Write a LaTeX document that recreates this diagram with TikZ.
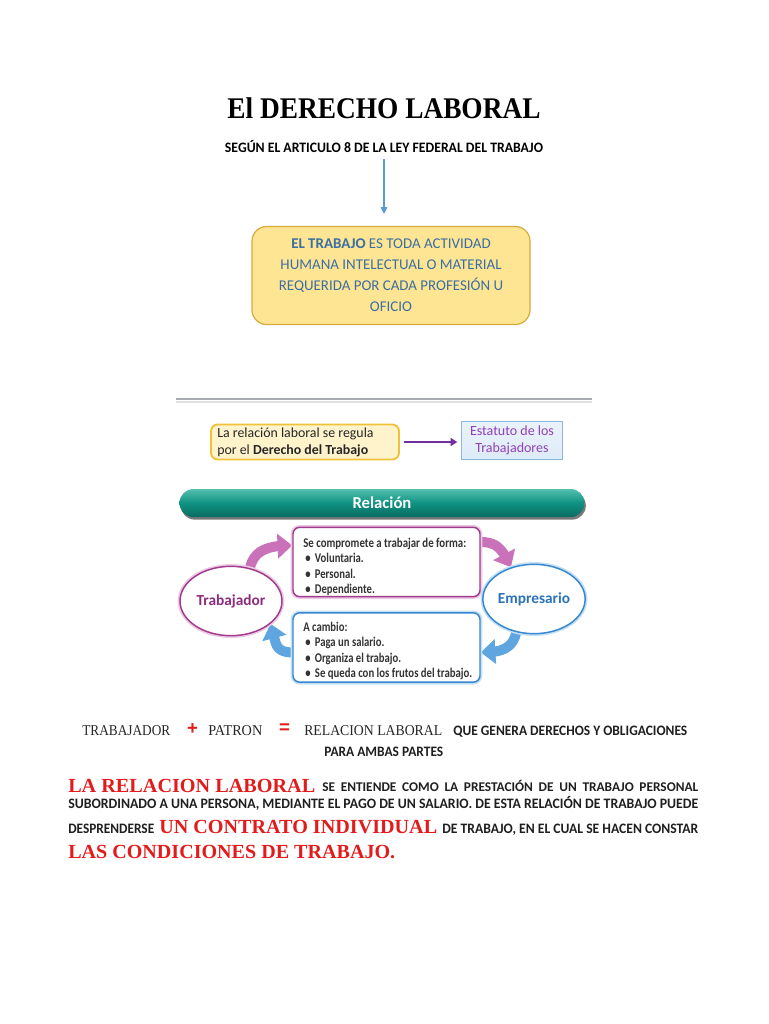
\documentclass[tikz,border=0pt]{standalone}
\usepackage{fontspec}
\usepackage{graphicx}
\setmainfont{Liberation Serif}
\newfontfamily\calib{Carlito}
\newfontfamily\arialf{Liberation Sans}
\usetikzlibrary{arrows.meta,bending,shapes.geometric,shadows}
\newdimen\pxu \pxu=0.75pt
\newsavebox\tmpbox
\newcommand{\fitw}[2]{\resizebox{#1\pxu}{\height}{#2}}
\newcommand{\just}[2]{\sbox\tmpbox{#2}\ifdim\wd\tmpbox>#1\pxu\relax\resizebox{#1\pxu}{\height}{\usebox\tmpbox}\else\makebox[#1\pxu][s]{#2}\fi}
\definecolor{boxtext}{HTML}{3B6EA3}
\definecolor{boxfill}{HTML}{FEE594}
\definecolor{boxdraw}{HTML}{D8AA3A}
\definecolor{arrblue}{HTML}{5B9BD5}
\definecolor{grayrule}{HTML}{A8ABB0}
\definecolor{ylfill}{HTML}{FFF3CC}
\definecolor{yldraw}{HTML}{F0C23A}
\definecolor{purp}{HTML}{7030A0}
\definecolor{estfill}{HTML}{DDEBF8}
\definecolor{estdraw}{HTML}{8DB8DC}
\definecolor{esttext}{HTML}{9040B8}
\definecolor{tealA}{HTML}{55BFAE}
\definecolor{tealB}{HTML}{0F9282}
\definecolor{tealC}{HTML}{0A6B5F}
\definecolor{mag}{HTML}{A23A8D}
\definecolor{magl}{HTML}{EBCBE4}
\definecolor{magarr}{HTML}{C972BA}
\definecolor{blu}{HTML}{3787D0}
\definecolor{blul}{HTML}{C4E0F5}
\definecolor{bluarr}{HTML}{5FA5DF}
\definecolor{trabtext}{HTML}{8A2C7E}
\definecolor{emptext}{HTML}{2B73B9}
\definecolor{redt}{HTML}{E41B1B}
\pgfdeclarelayer{bg}
\pgfsetlayers{bg,main}
\tikzset{
  txt/.style={anchor=base west, inner sep=0pt},
  serifw/.style={txt, font=\fontsize{11.25}{13}\selectfont, text=black!85},
  smallc/.style={txt, font=\calib\bfseries\fontsize{10.8}{12}\selectfont, text=black!88},
  redbig/.style={txt, font=\bfseries\fontsize{15}{18}\selectfont, text=redt},
  opsym/.style={inner sep=0pt, font=\arialf\bfseries\fontsize{14}{16}\selectfont, text=redt},
  circtxt/.style={txt, font=\calib\bfseries\fontsize{10}{11}\selectfont, text=black!80},
  thickarr/.style={line width=7.5pt, -{Triangle[width=18pt,length=11pt]}},
  glowbox/.style={rounded corners=5pt, line width=1.1pt, fill=white, minimum width=140.25pt, minimum height=52pt, inner sep=0pt},
  glowell/.style={ellipse, line width=1.1pt, fill=white, minimum width=76.5pt, minimum height=52pt, inner sep=0pt, font=\calib\bfseries\fontsize{11.5}{13}\selectfont}
}
\begin{document}
\begin{tikzpicture}[x=0.75pt,y=-0.75pt]
\begin{pgfonlayer}{bg}
\fill[white] (0,0) rectangle (768,1024);
\end{pgfonlayer}
\useasboundingbox (0,0) rectangle (768,1024);

% Title
\node[inner sep=0pt, anchor=base, font=\bfseries\fontsize{22.5}{26}\selectfont] (title) at (384,118) {\fitw{313}{El DERECHO LABORAL}};
\node[inner sep=0pt, anchor=base, font=\calib\bfseries\fontsize{10.8}{13}\selectfont] (sub) at (384,152) {\fitw{318}{SEGÚN EL ARTICULO 8 DE LA LEY FEDERAL DEL TRABAJO}};

\node[draw=boxdraw, fill=boxfill, rounded corners=11pt, line width=0.9pt, minimum width=208.5pt, minimum height=73.5pt, align=center, text=boxtext, font=\calib\fontsize{11.2}{15.75}\selectfont] (trabajo) at (391,275.5) {\textbf{EL TRABAJO} ES TODA ACTIVIDAD\\HUMANA INTELECTUAL O MATERIAL\\REQUERIDA POR CADA PROFESIÓN U\\OFICIO};
\draw[arrblue, line width=0.8pt, -{Triangle[width=5pt,length=5pt]}, shorten <=5pt, shorten >=9pt] (sub.south) -- (trabajo.north -| sub.south);

% rule
\draw[grayrule, line width=2pt] (176,399) -- (592,399);
\draw[black!12, line width=1.5pt] (176,401.5) -- (592,401.5);

% regula box
\node[draw=yldraw, fill=ylfill, rounded corners=5pt, line width=1.4pt, minimum width=141pt, minimum height=26.25pt] (reg) at (305,442) {};
\node[anchor=west, inner sep=0pt, align=left, font=\calib\fontsize{10.4}{12.75}\selectfont, text=black!85] (regt) at (217,442.5) {La relación laboral se regula\\por el \textbf{Derecho del Trabajo}};
\node[draw=estdraw, top color=estfill!60, bottom color=estfill, line width=0.6pt, minimum width=75.5pt, minimum height=25pt, align=center, text=esttext, font=\calib\fontsize{10.5}{12.75}\selectfont] (est) at (512,440) {Estatuto de los\\Trabajadores};
\draw[purp, line width=1.5pt, -{Triangle[width=6pt,length=5pt]}, shorten <=3pt, shorten >=3pt] (reg.east) -- (est.west |- reg.east);

% Relacion bar
\node[rounded corners=10.5pt, minimum width=303.75pt, minimum height=21pt, top color=tealA, bottom color=tealC, middle color=tealB, text=white, font=\calib\bfseries\fontsize{12.5}{15}\selectfont, drop shadow={shadow xshift=1pt, shadow yshift=-2pt, opacity=0.7, fill=black!75}] (rel) at (382,503) {Relación};

% cycle boxes
\node[glowbox, draw=mag, preaction={draw=magl, line width=3.5pt}] (comp) at (386.5,562) {};
\node[glowbox, draw=blu, preaction={draw=blul, line width=3.5pt}] (cambio) at (386.5,647.5) {};
\node[glowell, draw=mag, preaction={draw=magl, line width=3.5pt}, text=trabtext] (trab) at (231,601) {Trabajador};
\node[glowell, draw=blu, preaction={draw=blul, line width=3.5pt}, text=emptext] (emp) at (534,599) {Empresario};

\node[circtxt] (c1) at (303,547) {\fitw{163}{Se compromete a trabajar de forma:}};
\node[circtxt] (c2) at (305,562.5) {\scalebox{0.8}[1]{•\hspace{4pt}Voluntaria.}};
\node[circtxt] (c3) at (305,578) {\scalebox{0.8}[1]{•\hspace{4pt}Personal.}};
\node[circtxt] (c4) at (305,593.5) {\scalebox{0.8}[1]{•\hspace{4pt}Dependiente.}};
\node[circtxt] (d1) at (303,631) {\scalebox{0.8}[1]{A cambio:}};
\node[circtxt] (d2) at (305,646.5) {\scalebox{0.8}[1]{•\hspace{4pt}Paga un salario.}};
\node[circtxt] (d3) at (305,662) {\scalebox{0.8}[1]{•\hspace{4pt}Organiza el trabajo.}};
\node[circtxt] (d4) at (305,677.5) {\fitw{167}{•\hspace{4pt}Se queda con los frutos del trabajo.}};

\begin{pgfonlayer}{bg}
\draw[magarr, thickarr] (trab.60) .. controls +(4,-20) and +(-20,0) .. (comp.170);
\draw[magarr, thickarr] (comp.12) .. controls +(18,0) and +(-8,-16) .. (emp.126);
\draw[bluarr, thickarr] (emp.-118) .. controls +(-4,18) and +(18,0) .. (cambio.-3);
\draw[bluarr, thickarr] (cambio.183) .. controls +(-20,0) and +(6,16) .. (trab.-30);
\end{pgfonlayer}

% equation line
\node[serifw] (w1) at (82,735) {\fitw{88}{TRABAJADOR}};
\node[opsym] (plus) at (192.5,729) {+};
\node[serifw] (w2) at (208,735) {\fitw{54}{PATRON}};
\node[opsym] (eq) at (284.5,729) {=};
\node[serifw] (w3) at (304,735) {\fitw{138}{RELACION LABORAL}};
\node[smallc] (w4) at (453,735) {\just{234}{QUE GENERA DERECHOS Y OBLIGACIONES}};
\node[smallc] (w5) at (324,756) {\fitw{119}{PARA AMBAS PARTES}};

% paragraph
\node[redbig] (p1a) at (68,792) {\fitw{247}{LA RELACION LABORAL}};
\node[smallc, font=\calib\bfseries\fontsize{10}{12}\selectfont] (p1b) at (322,791) {\just{376}{SE ENTIENDE COMO LA PRESTACIÓN DE UN TRABAJO PERSONAL}};
\node[smallc] (p2) at (68,808.5) {\just{630}{SUBORDINADO A UNA PERSONA, MEDIANTE EL PAGO DE UN SALARIO. DE ESTA RELACIÓN DE TRABAJO PUEDE}};
\node[smallc] (p3a) at (68,833) {\fitw{86}{DESPRENDERSE}};
\node[redbig] (p3b) at (159,833) {\fitw{278}{UN CONTRATO INDIVIDUAL}};
\node[smallc] (p3c) at (442,833) {\just{256}{DE TRABAJO, EN EL CUAL SE HACEN CONSTAR}};
\node[redbig] (p4) at (68,858) {\fitw{327}{LAS CONDICIONES DE TRABAJO.}};
\end{tikzpicture}
\end{document}
